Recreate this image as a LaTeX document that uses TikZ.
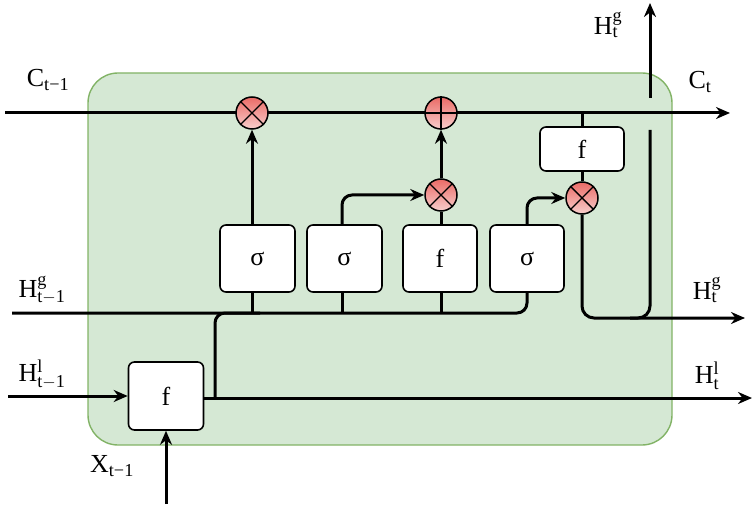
\documentclass[tikz,border=0pt]{standalone}
\usepackage{fontspec}
\setmainfont{Liberation Serif}
\usetikzlibrary{arrows.meta}
\definecolor{gfill}{HTML}{D5E8D4}
\definecolor{gline}{HTML}{82B366}
\definecolor{rtop}{HTML}{EA6B66}
\definecolor{rbot}{HTML}{F8CECC}
\begin{document}
\begin{tikzpicture}[x=1pt,y=-1pt,
  ln/.style={line width=3pt,black},
  ar/.style={ln,-{Stealth[length=14pt,width=12pt]}},
  box/.style={draw,line width=1.6pt,fill=white,rounded corners=6pt,inner sep=0pt,font=\fontsize{26}{28}\selectfont},
  op/.style={circle,draw,line width=1.5pt,minimum size=32pt,inner sep=0pt,top color=rtop,bottom color=rbot},
  lab/.style={font=\fontsize{26}{28}\selectfont,inner sep=0pt}]
\useasboundingbox (0,0) rectangle (754,510);
\draw[gline,fill=gfill,line width=1.4pt,rounded corners=30pt] (88,73) rectangle (672,445);
% nodes
\node[box,minimum width=75pt,minimum height=67pt] (s1) at (257.5,258.5) {σ};
\node[box,minimum width=75pt,minimum height=67pt] (s2) at (344.5,258.5) {σ};
\node[box,minimum width=74pt,minimum height=67pt] (f2) at (440,258.5) {f};
\node[box,minimum width=74pt,minimum height=67pt] (s4) at (527,258.5) {σ};
\node[box,minimum width=84pt,minimum height=44pt] (ft) at (582,149) {f};
\node[box,minimum width=75pt,minimum height=68pt] (f1) at (166,396) {f};
\coordinate (cin) at (5,113);
\coordinate (cout) at (730,113);
\draw[ar] (cin) -- (cout);
\node[op] (m1) at (252,113) {};
\node[op] (p1) at (441,113) {};
\node[op] (m2) at (441,195) {};
\node[op] (m3) at (582,198) {};
\foreach \n in {m1,m2,m3}{
 \draw[line width=1.4pt] (\n.north east)--(\n.south west) (\n.north west)--(\n.south east);}
\draw[line width=1.4pt] (p1.north)--(p1.south) (p1.west)--(p1.east);
% Hg bus
\coordinate (hgin) at (12,313);
\draw[ln,rounded corners=10pt] (hgin) -- (527,313) -- (s4.south);
\draw[ln,rounded corners=10pt] (215,398) -- (215,313) -- (260,313);
\draw[ln] (252,313) -- (252,292);
\draw[ln] (342,313) -- (342,292);
\draw[ln] (441,313) -- (441,292);
% gates
\draw[ar] (252,225) -- (m1.south);
\draw[ar,rounded corners=10pt] (342,225) -- (342,195) -- (m2.west);
\draw[ln] (441,225) -- (m2.south);
\draw[ar] (m2.north) -- (p1.south);
\draw[ar,rounded corners=10pt] (527,225) -- (527,198) -- (m3.west);
\draw[ln] (582,113) -- (ft.north);
\draw[ln] (ft.south) -- (m3.north);
\coordinate (hgout) at (745,318);
\draw[ar,rounded corners=12pt] (m3.south) -- (582,318) -- (hgout);
\coordinate (hgtop) at (650,3);
\draw[ln,rounded corners=12pt] (630,318) -- (650,318) -- (650,130);
\draw[ar] (650,98) -- (hgtop);
% bottom
\coordinate (hlin) at (8,396);
\coordinate (xin) at (166,504);
\coordinate (hlout) at (752,398);
\draw[ar] (hlin) -- (f1.west);
\draw[ar] (xin) -- (f1.south);
\draw[ar] (f1.east |- 0,398) -- (hlout);
% labels
\node[lab] at (48,80) {C\textsubscript{t−1}};
\node[lab] at (700,82) {C\textsubscript{t}};
\node[lab] at (42,290) {H$^{\mathrm{g}}_{\mathrm{t-1}}$};
\node[lab] at (42,374) {H$^{\mathrm{l}}_{\mathrm{t-1}}$};
\node[lab] at (112,466) {X\textsubscript{t−1}};
\node[lab] at (707,290) {H$^{\mathrm{g}}_{\mathrm{t}}$};
\node[lab] at (707,376) {H$^{\mathrm{l}}_{\mathrm{t}}$};
\node[lab] at (608,25) {H$^{\mathrm{g}}_{\mathrm{t}}$};
\end{tikzpicture}
\end{document}
